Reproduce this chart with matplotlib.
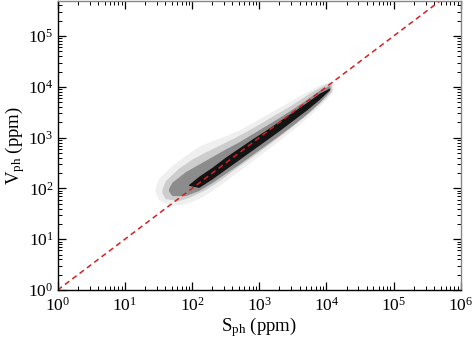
import numpy as np
import matplotlib
matplotlib.use('Agg')
import matplotlib.pyplot as plt
from matplotlib.ticker import FixedLocator, NullFormatter

plt.rcParams['font.family'] = ['Liberation Serif', 'DejaVu Serif']
plt.rcParams['mathtext.fontset'] = 'stix'

# sparse outer halo: log10(S_ph) and log10(V_ph) lower / upper edges
halo_s = [1.45, 1.5, 1.7, 1.9, 2.1, 2.3, 2.5, 2.7, 2.9, 3.1, 3.3, 3.5, 3.7, 3.9, 4.05, 4.1]
halo_lo = [1.95, 1.78, 1.66, 1.70, 1.80, 1.96, 2.15, 2.35, 2.55, 2.75, 2.95, 3.16, 3.38, 3.62, 3.84, 3.95]
halo_hi = [2.00, 2.20, 2.45, 2.65, 2.83, 2.94, 3.04, 3.15, 3.30, 3.45, 3.60, 3.75, 3.90, 4.04, 4.10, 4.05]
# thinner scatter around the band
light_s = [1.55, 1.6, 1.8, 2.0, 2.2, 2.4, 2.6, 2.8, 3.0, 3.2, 3.4, 3.6, 3.8, 4.0, 4.08]
light_lo = [1.92, 1.80, 1.76, 1.85, 1.98, 2.15, 2.35, 2.54, 2.73, 2.93, 3.13, 3.34, 3.56, 3.80, 3.92]
light_hi = [1.98, 2.15, 2.40, 2.58, 2.72, 2.85, 2.98, 3.12, 3.27, 3.43, 3.58, 3.75, 3.92, 4.06, 4.06]
# medium density band
mid_s = [1.65, 1.7, 1.9, 2.1, 2.3, 2.5, 2.7, 2.9, 3.1, 3.3, 3.5, 3.7, 3.9, 4.05]
mid_lo = [1.95, 1.86, 1.86, 1.96, 2.12, 2.30, 2.48, 2.67, 2.86, 3.05, 3.25, 3.46, 3.70, 3.92]
mid_hi = [2.00, 2.12, 2.33, 2.48, 2.63, 2.78, 2.92, 3.08, 3.24, 3.40, 3.57, 3.75, 3.94, 4.03]
# dense core
core_s = [1.95, 2.1, 2.3, 2.5, 2.7, 2.9, 3.1, 3.3, 3.5, 3.7, 3.9, 4.05]
core_lo = [2.06, 2.02, 2.19, 2.38, 2.57, 2.76, 2.95, 3.14, 3.34, 3.54, 3.76, 3.95]
core_hi = [2.08, 2.24, 2.42, 2.62, 2.80, 2.98, 3.15, 3.33, 3.51, 3.69, 3.88, 3.98]

x_decades = [0, 1, 2, 3, 4, 5, 6]
y_decades = [0, 1, 2, 3, 4, 5]
x_max = 1e6
y_max = 4.9e5


def band(s, lo, hi, color):
    ax.fill_between(10 ** np.array(s), 10 ** np.array(lo), 10 ** np.array(hi),
                    color=color, lw=0)


def minor_ticks(decades, top):
    ticks = [m * 10.0 ** d for d in decades for m in range(2, 10)]
    return [t for t in ticks if t < top]


fig = plt.figure(figsize=(4.74, 3.39), dpi=100)
ax = fig.add_axes([0.1217, 0.1445, 0.8503, 0.8525])

band(halo_s, halo_lo, halo_hi, '#efefef')
band(light_s, light_lo, light_hi, '#cdcdcd')
band(mid_s, mid_lo, mid_hi, '#8c8c8c')
band(core_s, core_lo, core_hi, '#141414')

# one-to-one line
ax.plot([1, x_max], [1, x_max], color='#d42020', ls=(0, (3.5, 2.5)), lw=1.1)

ax.set_xscale('log')
ax.set_yscale('log')
ax.set_xlim(1, x_max)
ax.set_ylim(1, y_max)

ax.xaxis.set_major_locator(FixedLocator([10.0 ** d for d in x_decades]))
ax.yaxis.set_major_locator(FixedLocator([10.0 ** d for d in y_decades]))
ax.xaxis.set_minor_locator(FixedLocator(minor_ticks(x_decades, x_max)))
ax.yaxis.set_minor_locator(FixedLocator(minor_ticks(y_decades, y_max)))
ax.xaxis.set_minor_formatter(NullFormatter())
ax.yaxis.set_minor_formatter(NullFormatter())

ax.tick_params(which='both', direction='in', top=True, right=True,
               labelsize=12.5)
ax.tick_params(which='major', length=6, width=0.9)
ax.tick_params(which='minor', length=3, width=0.7)
ax.tick_params(axis='x', pad=5)
ax.tick_params(axis='y', pad=3)
for side in ['top', 'right']:
    ax.spines[side].set_color('#888888')
for side in ax.spines:
    ax.spines[side].set_linewidth(1.0)

ax.set_xlabel(r'$\mathregular{S_{ph}}$ (ppm)', fontsize=13.5, labelpad=0)
ax.set_ylabel(r'$\mathregular{V_{ph}}$ (ppm)', fontsize=13.5, labelpad=1)

fig.savefig('out.png', dpi=100)
